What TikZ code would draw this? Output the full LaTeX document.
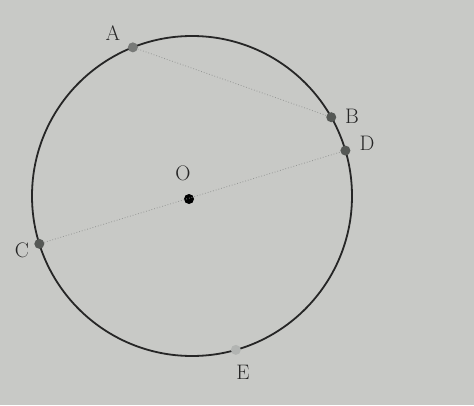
\documentclass[tikz,border=0pt]{standalone}
\usetikzlibrary{calc}
\definecolor{bg}{RGB}{200,201,198}
\definecolor{ptdark}{RGB}{85,88,85}
\definecolor{ptlight}{RGB}{178,180,178}
\definecolor{ptmid}{RGB}{120,122,120}
\definecolor{dotline}{RGB}{150,152,150}
\tikzset{
  lbl/.style={font=\fontsize{21}{24}\selectfont, text=black!85, inner sep=0pt},
  pt/.style={circle, inner sep=0pt, minimum size=10pt},
  chord/.style={dotted, dotline, line width=0.8pt}
}
\begin{document}
\begin{tikzpicture}[x=1pt,y=1pt]
\fill[bg] (0,0) rectangle (474,405);
\useasboundingbox (0,0) rectangle (474,405);
\coordinate (ctr) at (192,209);
\draw[line width=1.8pt, black!85] (ctr) circle (160);
\node[pt, fill=ptmid] (A) at ($(ctr)+(111.7:160)$) {};
\node[pt, fill=ptdark] (B) at ($(ctr)+(29.5:160)$) {};
\node[pt, fill=ptdark] (D) at ($(ctr)+(16.5:160)$) {};
\node[pt, fill=ptdark] (C) at ($(ctr)+(197.4:160)$) {};
\node[pt, fill=ptlight] (E) at ($(ctr)+(-74.1:160)$) {};
\node[pt, fill=black, minimum size=10pt] (O) at (189,206) {};
\draw[chord] (A) -- (B);
\draw[chord] (C) -- (D);
\node[lbl] (lA) at (113,372) {A};
\node[lbl] (lB) at (352,289) {B};
\node[lbl] (lD) at (367,262) {D};
\node[lbl] (lC) at (22,155) {C};
\node[lbl] (lE) at (243,33) {E};
\node[lbl] (lO) at (183,232) {O};
\end{tikzpicture}
\end{document}
